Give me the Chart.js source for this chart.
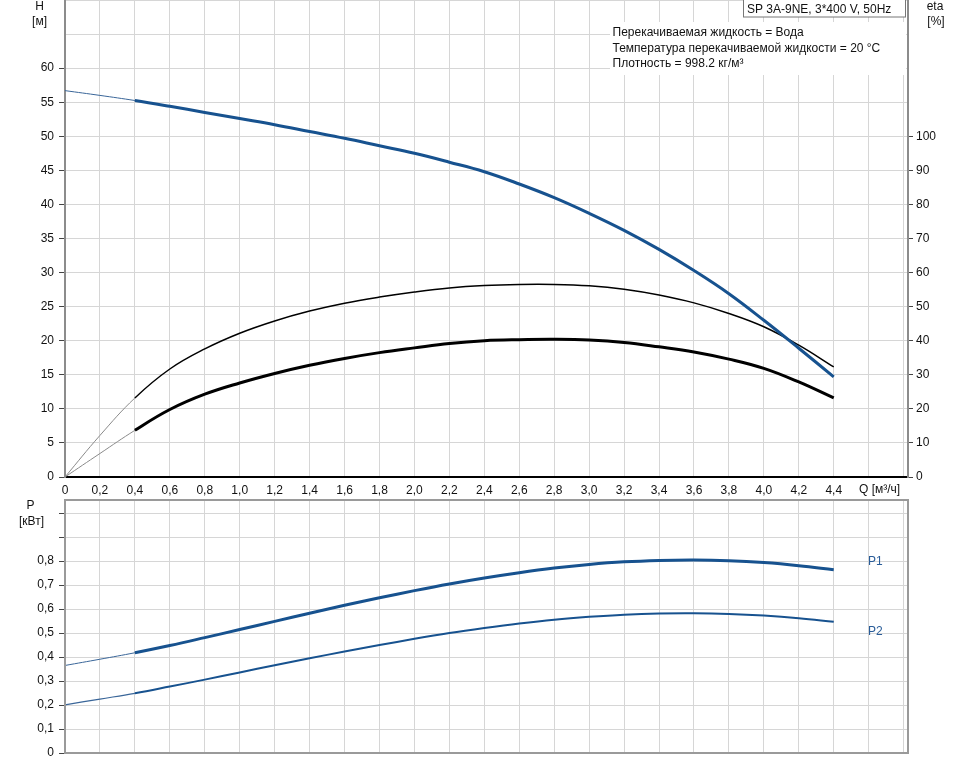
<!DOCTYPE html>
<html>
<head>
<meta charset="utf-8">
<script src="https://cdn.jsdelivr.net/npm/chart.js@4.4.1/dist/chart.umd.min.js"></script>
<style>
	html, body { margin: 0; padding: 0; background: #fff; }
	#wrap { position: relative; width: 968px; height: 764px; }
	canvas { position: absolute; left: 0; }
	#chart-top { top: 0; }
	#chart-bottom { top: 495px; }
</style>
</head>
<body>
<div id="wrap">
	<canvas id="chart-top" width="968" height="500"></canvas>
	<canvas id="chart-bottom" width="968" height="269"></canvas>
</div>
<script>
// flow, m3/h
var Q = [0, 0.2, 0.4, 0.6, 0.8, 1.0, 1.2, 1.4, 1.6, 1.8, 2.0, 2.2, 2.4, 2.6, 2.8, 3.0, 3.2, 3.4, 3.6, 3.8, 4.0, 4.2, 4.4];
// head, m
var H = [56.7, 56.0, 55.25, 54.4, 53.5, 52.6, 51.7, 50.7, 49.7, 48.6, 47.5, 46.2, 44.8, 43.0, 41.0, 38.7, 36.2, 33.4, 30.3, 26.9, 23.0, 18.9, 14.7];
// efficiency, %  (upper thin curve / lower thick curve)
var eta1 = [0, 12.2, 23.2, 31.7, 37.6, 42.2, 45.8, 48.7, 51.0, 52.8, 54.3, 55.5, 56.2, 56.5, 56.5, 56.1, 55.1, 53.4, 51.1, 48.0, 44.1, 38.7, 32.3];
var eta2 = [0, 6.9, 13.7, 19.8, 24.3, 27.6, 30.4, 32.8, 34.8, 36.5, 37.9, 39.2, 40.0, 40.3, 40.4, 40.2, 39.5, 38.2, 36.7, 34.6, 31.9, 27.9, 23.2];
// power, kW
var P1 = [0.365, 0.391, 0.418, 0.448, 0.481, 0.515, 0.549, 0.583, 0.616, 0.647, 0.677, 0.705, 0.730, 0.752, 0.771, 0.786, 0.797, 0.803, 0.805, 0.802, 0.794, 0.781, 0.764];
var P2 = [0.201, 0.225, 0.249, 0.277, 0.306, 0.336, 0.366, 0.395, 0.423, 0.450, 0.476, 0.500, 0.521, 0.540, 0.556, 0.568, 0.577, 0.582, 0.583, 0.580, 0.573, 0.562, 0.547];

// curve is drawn thin below this flow, thick above
var Q_MIN = 0.4;

var infoLines = [
	'Перекачиваемая жидкость = Вода',
	'Температура перекачиваемой жидкости = 20 °C',
	'Плотность = 998.2 кг/м³'
];
var pumpTitle = 'SP 3A-9NE, 3*400 V, 50Hz';

var FONT = '"Liberation Sans", Arial, sans-serif';
var BLUE = '#17528f';
var GRID = '#d6d6d6';
var AXIS = '#8c8c8c';
var TEXT = '#111';

function pts(ys) {
	return Q.map(function (q, i) { return { x: q, y: ys[i] }; });
}

// one spline per curve; the part below Q_MIN gets the thin style
function curve(ys, axis, color, width, thinColor, thinWidth) {
	var low = function (ctx) { return ctx.p0.parsed.x < Q_MIN - 1e-9; };
	return {
		data: pts(ys),
		borderColor: color,
		borderWidth: width,
		pointRadius: 0,
		fill: false,
		tension: 0.4,
		yAxisID: axis,
		segment: {
			borderColor: function (ctx) { return low(ctx) ? thinColor : color; },
			borderWidth: function (ctx) { return low(ctx) ? thinWidth : width; }
		}
	};
}

function fixWidth(w) {
	return function (s) { s.width = w; s.paddingTop = 0; s.paddingBottom = 0; };
}
function fixHeight(h) {
	return function (s) { s.height = h; s.paddingLeft = 0; s.paddingRight = 0; };
}
function comma(v) {
	var r = Math.round(v * 10) / 10;
	return r === 0 ? '0' : r.toFixed(1).replace('.', ',');
}

var xMax = 4.825;
var font = { family: FONT, size: 12 };

var topTexts = {
	id: 'topTexts',
	afterDraw: function (chart) {
		var c = chart.ctx;
		c.save();
		c.font = '12px ' + FONT;
		c.fillStyle = TEXT;
		c.textBaseline = 'middle';
		c.textAlign = 'center';
		c.fillText('H', 39.5, 7);
		c.fillText('[м]', 39.5, 22);
		c.fillText('eta', 935, 7);
		c.fillText('[%]', 936, 22);
		c.textAlign = 'left';
		c.fillText('Q [м³/ч]', 859, 490);

		c.fillStyle = '#fff';
		c.fillRect(610, 22, 296, 53);
		c.fillRect(743, 0, 163, 17);
		c.strokeStyle = '#777';
		c.lineWidth = 1;
		c.strokeRect(743.5, -0.5, 162, 17.5);
		c.fillStyle = TEXT;
		c.fillText(pumpTitle, 747, 10);
		c.fillText(infoLines[0], 612.5, 33);
		c.fillText(infoLines[1], 612.5, 49);
		c.fillText(infoLines[2], 612.5, 64);
		c.restore();
	}
};

var bottomTexts = {
	id: 'bottomTexts',
	afterDraw: function (chart) {
		var c = chart.ctx, a = chart.chartArea;
		c.save();
		c.strokeStyle = '#9a9a9a';
		c.lineWidth = 2;
		c.strokeRect(a.left, a.top, a.right - a.left, a.bottom - a.top);
		c.font = '12px ' + FONT;
		c.fillStyle = TEXT;
		c.textBaseline = 'middle';
		c.textAlign = 'center';
		c.fillText('P', 30.5, 11);
		c.fillText('[кВт]', 31.5, 27);
		c.textAlign = 'left';
		c.fillStyle = '#2a5d99';
		c.fillText('P1', 868, 67);
		c.fillText('P2', 868, 137);
		c.restore();
	}
};

new Chart(document.getElementById('chart-top'), {
	type: 'line',
	data: {
		datasets: [
			curve(H, 'h', BLUE, 3, '#3a6699', 1),
			curve(eta1, 'eta', '#000', 1.5, '#8a8a8a', 1),
			curve(eta2, 'eta', '#000', 3, '#8a8a8a', 1)
		]
	},
	options: {
		responsive: false,
		animation: false,
		devicePixelRatio: 1,
		layout: { padding: 0 },
		plugins: { legend: { display: false }, tooltip: { enabled: false } },
		scales: {
			x: {
				type: 'linear',
				min: 0,
				max: xMax,
				afterFit: fixHeight(23),
				border: { color: '#000', width: 2 },
				grid: { color: GRID, drawTicks: false },
				ticks: {
					stepSize: 0.2, includeBounds: false, autoSkip: false, maxRotation: 0,
					padding: 6, color: TEXT, font: font,
					callback: function (v) { return v > 4.5 ? '' : comma(v); }
				}
			},
			h: {
				position: 'left',
				min: 0,
				max: 70,
				afterFit: fixWidth(65),
				border: { color: AXIS, width: 2 },
				grid: {
					color: GRID, tickLength: 6,
					tickColor: function (ctx) { return ctx.tick && ctx.tick.value > 60 ? 'rgba(0,0,0,0)' : '#444'; }
				},
				ticks: {
					stepSize: 5, includeBounds: false, padding: 5, color: TEXT, font: font,
					callback: function (v) { return v > 60 ? '' : String(v); }
				}
			},
			eta: {
				position: 'right',
				min: 0,
				max: 140,
				afterFit: fixWidth(60),
				border: { color: AXIS, width: 2 },
				grid: {
					drawOnChartArea: false, tickLength: 5,
					tickColor: function (ctx) { return ctx.tick && ctx.tick.value > 100 ? 'rgba(0,0,0,0)' : '#444'; }
				},
				ticks: {
					stepSize: 10, includeBounds: false, padding: 3, color: TEXT, font: font,
					callback: function (v) { return v > 100 ? '' : String(v); }
				}
			}
		}
	},
	plugins: [topTexts]
});

new Chart(document.getElementById('chart-bottom'), {
	type: 'line',
	data: {
		datasets: [
			curve(P1, 'p', BLUE, 3, '#3a6699', 1),
			curve(P2, 'p', BLUE, 2, '#3a6699', 1.2)
		]
	},
	options: {
		responsive: false,
		animation: false,
		devicePixelRatio: 1,
		layout: { padding: { top: 5, right: 60 } },
		plugins: { legend: { display: false }, tooltip: { enabled: false } },
		scales: {
			x: {
				type: 'linear',
				min: 0,
				max: xMax,
				afterFit: fixHeight(11),
				border: { color: '#9a9a9a', width: 2 },
				grid: { color: GRID, drawTicks: false },
				ticks: { stepSize: 0.2, includeBounds: false, autoSkip: false, display: false }
			},
			p: {
				position: 'left',
				min: 0,
				max: 1.055,
				afterFit: fixWidth(65),
				border: { color: AXIS, width: 2 },
				grid: { color: GRID, tickLength: 6, tickColor: '#444' },
				ticks: {
					stepSize: 0.1, includeBounds: false, padding: 5, color: TEXT, font: font,
					callback: function (v) { return v > 0.85 ? '' : comma(v); }
				}
			}
		}
	},
	plugins: [bottomTexts]
});
</script>
</body>
</html>
